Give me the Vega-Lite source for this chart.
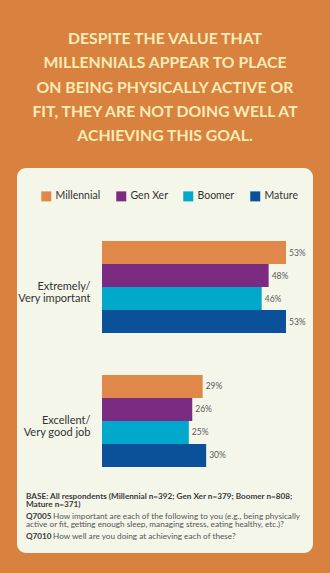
{
  "$schema": "https://vega.github.io/schema/vega-lite/v6.json",
  "width": 296,
  "height": 385,
  "autosize": {"type": "none"},
  "padding": {"left": 17, "top": 168, "right": 17, "bottom": 20},
  "background": "#D9813F",
  "config": {
    "view": {"fill": "#F4F6EA", "stroke": null, "cornerRadius": 9},
    "font": "Lato"
  },
  "title": {
    "text": ["DESPITE THE VALUE THAT", "MILLENNIALS APPEAR TO PLACE", "ON BEING PHYSICALLY ACTIVE OR", "FIT, THEY ARE NOT DOING WELL AT", "ACHIEVING THIS GOAL."],
    "color": "#F7ECB5",
    "font": "Lato",
    "fontSize": 15.8,
    "fontWeight": "bold",
    "lineHeight": 24.3,
    "anchor": "middle",
    "frame": "group",
    "offset": 23
  },
  "datasets": {
    "survey": [
      {"measure": "Extremely/ Very important", "generation": "Millennial", "share": 0.53},
      {"measure": "Extremely/ Very important", "generation": "Gen Xer", "share": 0.48},
      {"measure": "Extremely/ Very important", "generation": "Boomer", "share": 0.46},
      {"measure": "Extremely/ Very important", "generation": "Mature", "share": 0.53},
      {"measure": "Excellent/ Very good job", "generation": "Millennial", "share": 0.29},
      {"measure": "Excellent/ Very good job", "generation": "Gen Xer", "share": 0.26},
      {"measure": "Excellent/ Very good job", "generation": "Boomer", "share": 0.25},
      {"measure": "Excellent/ Very good job", "generation": "Mature", "share": 0.30}
    ]
  },
  "layer": [
    {
      "data": {"name": "survey"},
      "encoding": {
        "y": {
          "field": "measure",
          "type": "nominal",
          "sort": ["Extremely/ Very important", "Excellent/ Very good job"],
          "scale": {"type": "band", "range": [73, 299], "paddingInner": 0.3134, "paddingOuter": 0},
          "axis": {
            "title": null,
            "orient": "left",
            "offset": -85,
            "labelPadding": 12,
            "domain": false,
            "ticks": false,
            "labelAlign": "right",
            "labelBaseline": "middle",
            "labelFont": "Lato",
            "labelFontSize": 11,
            "labelColor": "#333333",
            "labelLineHeight": 12,
            "labelExpr": "[split(datum.value, '/ ')[0] + '/', split(datum.value, '/ ')[1]]"
          }
        },
        "yOffset": {
          "field": "generation",
          "type": "nominal",
          "sort": ["Millennial", "Gen Xer", "Boomer", "Mature"],
          "scale": {"paddingInner": 0, "paddingOuter": 0}
        },
        "x": {
          "field": "share",
          "type": "quantitative",
          "scale": {"domain": [0, 0.53], "range": [85, 269], "nice": false, "zero": true},
          "axis": null
        }
      },
      "layer": [
        {
          "mark": {"type": "bar"},
          "encoding": {
            "color": {
              "field": "generation",
              "type": "nominal",
              "sort": ["Millennial", "Gen Xer", "Boomer", "Mature"],
              "scale": {
                "domain": ["Millennial", "Gen Xer", "Boomer", "Mature"],
                "range": ["#E0884A", "#7C2B83", "#00A8CC", "#0B5199"]
              },
              "legend": {
                "title": null,
                "orient": "none",
                "legendX": 24,
                "legendY": 23,
                "direction": "horizontal",
                "columns": 4,
                "symbolType": "square",
                "symbolSize": 100,
                "symbolStrokeWidth": 0,
                "labelFont": "Lato",
                "labelFontSize": 10.5,
                "labelColor": "#333333",
                "labelOffset": 4,
                "columnPadding": 15,
                "padding": 0
              }
            }
          }
        },
        {
          "mark": {"type": "text", "align": "left", "baseline": "middle", "dx": 3, "fontSize": 8.5, "color": "#5a5a5a", "font": "Lato"},
          "encoding": {
            "text": {"field": "share", "type": "quantitative", "format": ".0%"},
            "detail": {"field": "generation"}
          }
        }
      ]
    },
    {
      "layer": [
        {
          "data": {"values": [{"note": "BASE: All respondents (Millennial n=392; Gen Xer n=379; Boomer n=808;"}]},
          "mark": {"type": "text", "align": "left", "baseline": "middle", "fontSize": 8.2, "fontWeight": "bold", "color": "#3a3a3a", "font": "Lato"},
          "encoding": {
            "text": {"field": "note"},
            "x": {"datum": -0.219, "type": "quantitative"},
            "y": {"datum": 85.45, "type": "quantitative", "scale": {"domain": [0, 100], "reverse": true, "nice": false}, "axis": null}
          }
        },
        {
          "data": {"values": [{"note": "Mature n=371)"}]},
          "mark": {"type": "text", "align": "left", "baseline": "middle", "fontSize": 8.2, "fontWeight": "bold", "color": "#3a3a3a", "font": "Lato"},
          "encoding": {
            "text": {"field": "note"},
            "x": {"datum": -0.219, "type": "quantitative"},
            "y": {"datum": 87.66, "type": "quantitative"}
          }
        },
        {
          "data": {"values": [{"note": "Q7005"}]},
          "mark": {"type": "text", "align": "left", "baseline": "middle", "fontSize": 8.2, "fontWeight": "bold", "color": "#3a3a3a", "font": "Lato"},
          "encoding": {
            "text": {"field": "note"},
            "x": {"datum": -0.219, "type": "quantitative"},
            "y": {"datum": 90.52, "type": "quantitative"}
          }
        },
        {
          "data": {"values": [{"note": "How important are each of the following to you (e.g., being physically"}]},
          "mark": {"type": "text", "align": "left", "baseline": "middle", "fontSize": 8.2, "color": "#555555", "font": "Lato"},
          "encoding": {
            "text": {"field": "note"},
            "x": {"datum": -0.141, "type": "quantitative"},
            "y": {"datum": 90.52, "type": "quantitative"}
          }
        },
        {
          "data": {"values": [{"note": "active or fit, getting enough sleep, managing stress, eating healthy, etc.)?"}]},
          "mark": {"type": "text", "align": "left", "baseline": "middle", "fontSize": 8.2, "color": "#555555", "font": "Lato"},
          "encoding": {
            "text": {"field": "note"},
            "x": {"datum": -0.219, "type": "quantitative"},
            "y": {"datum": 92.73, "type": "quantitative"}
          }
        },
        {
          "data": {"values": [{"note": "Q7010"}]},
          "mark": {"type": "text", "align": "left", "baseline": "middle", "fontSize": 8.2, "fontWeight": "bold", "color": "#3a3a3a", "font": "Lato"},
          "encoding": {
            "text": {"field": "note"},
            "x": {"datum": -0.219, "type": "quantitative"},
            "y": {"datum": 95.84, "type": "quantitative"}
          }
        },
        {
          "data": {"values": [{"note": "How well are you doing at achieving each of these?"}]},
          "mark": {"type": "text", "align": "left", "baseline": "middle", "fontSize": 8.2, "color": "#555555", "font": "Lato"},
          "encoding": {
            "text": {"field": "note"},
            "x": {"datum": -0.141, "type": "quantitative"},
            "y": {"datum": 95.84, "type": "quantitative"}
          }
        }
      ]
    }
  ],
  "resolve": {"scale": {"y": "independent"}}
}
